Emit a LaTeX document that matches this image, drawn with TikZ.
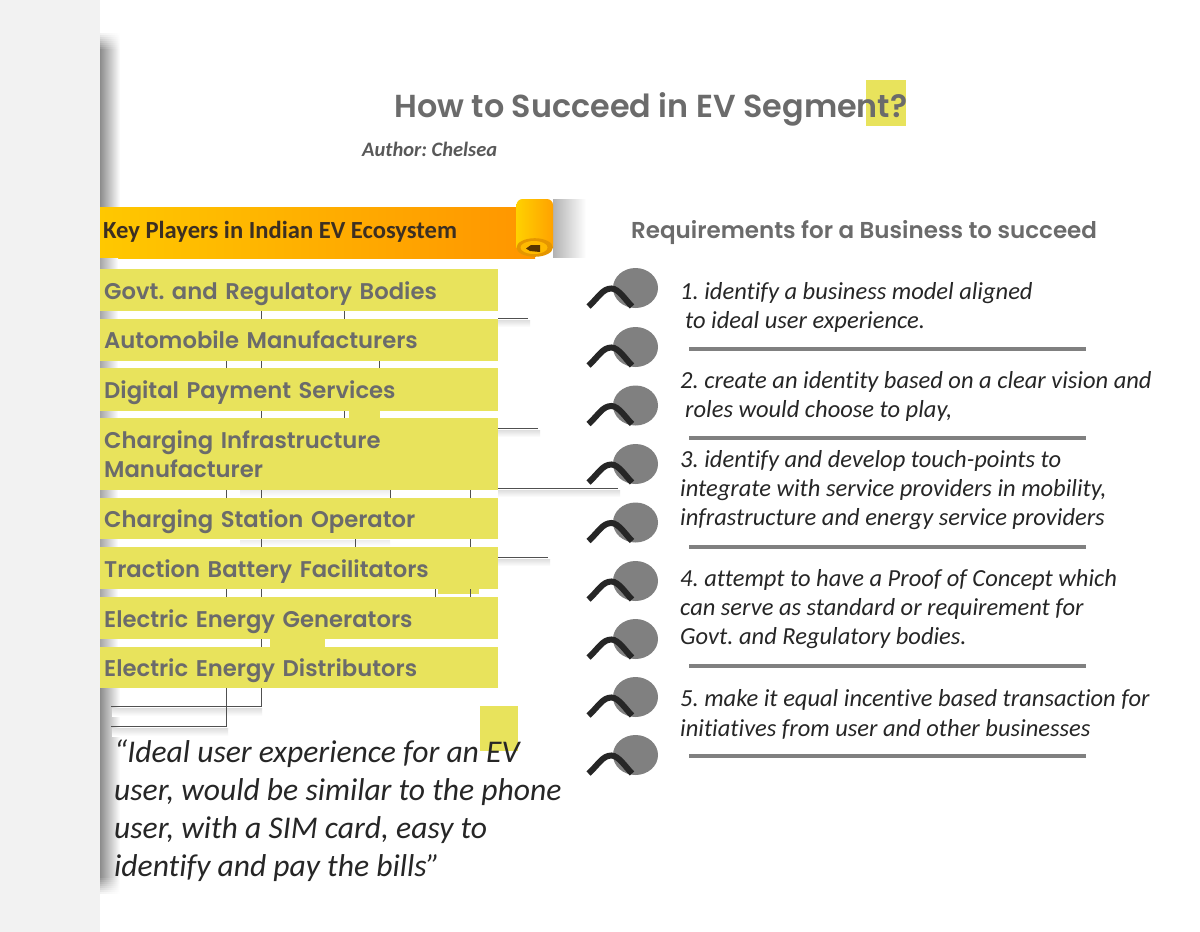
\documentclass[tikz,border=0pt]{standalone}
\usepackage{fontspec}
\setmainfont{Carlito}[Ligatures=NoCommon]
\newfontfamily\gothic{Poppins SemiBold}
\usetikzlibrary{shapes.geometric}
\definecolor{ylw}{HTML}{E8E35C}
\definecolor{lbl}{HTML}{6B6B6B}
\definecolor{ink}{HTML}{262626}
\definecolor{tick}{HTML}{505050}
\definecolor{ambA}{HTML}{FFC800}
\definecolor{ambB}{HTML}{FF9500}
\tikzset{
  yboxbase/.style={fill=ylw,anchor=north west,minimum width=398pt,text width=390pt,inner xsep=4pt,inner ysep=0pt,align=left,text=lbl,font=\gothic\fontsize{22.7}{29}\selectfont},
  ybox/.style={yboxbase,text height=23pt,text depth=5pt},
  ypatch/.style={fill=ylw,draw=none},
  tickline/.style={draw=tick,line width=0.8pt},
  sideshadow/.style={left color=black!45,right color=white,draw=none},
  softshadow/.style={top color=black!13,bottom color=white,draw=none},
  faintshadow/.style={top color=black!7,bottom color=white,draw=none},
  rulebar/.style={draw=black!50,line width=4pt},
  dot/.style={ellipse,fill=black!50,minimum width=45pt,minimum height=40pt,inner sep=0pt},
  hook/.style={draw=ink,line width=6pt},
  req/.style={anchor=west,inner sep=0pt,text=ink,font=\fontsize{24.5}{24}\selectfont\itshape},
  quoteline/.style={anchor=west,inner sep=0pt,text=ink,font=\fontsize{31.6}{32}\selectfont\itshape}
}
\begin{document}
\frenchspacing
\begin{tikzpicture}[x=1pt,y=-1pt]
\useasboundingbox (0,0) rectangle (1200,932);
\fill[white] (0,0) rectangle (1200,932);
\fill[black!5] (0,0) rectangle (100,932);
% side shadows
\foreach \k in {1,...,9}{
  \pgfmathsetmacro{\sh}{45*\k/9}
  \shade[left color=black!\sh,right color=white] (100,{31+2*\k}) rectangle (120,{33+2*\k});
  \shade[left color=black!\sh,right color=white] (100,{893-2*\k}) rectangle (120,{895-2*\k});
}
\shade[sideshadow] (100,51) rectangle (120,207);
\shade[sideshadow] (100,688) rectangle (120,875.5);
% title
\fill[ylw] (866,80) rectangle (906,126);
\node[anchor=west,inner sep=0pt,text=lbl,font=\gothic\fontsize{31.8}{30}\selectfont] (title) at (394,109) {How to Succeed in EV Segment?};
\node[anchor=west,inner sep=0pt,text=black!65,font=\fontsize{20.5}{20}\selectfont\bfseries\itshape] (author) at (362,149) {Author: Chelsea};
% banner
\shade[left color=black!30,right color=white] (553,199) rectangle (586,257);
\shade[left color=ambA,right color=ambB] (100,207) rectangle (535,258);
\shade[left color=ambA!85!yellow,right color=ambB!75!ambA] (516.5,248) [rounded corners=6pt] -- (516.5,199) -- (553,199) [sharp corners] -- (553,248) -- cycle;
\fill[ambB!65!ambA!90!black] (534.7,247.5) ellipse[x radius=18.2,y radius=9.3];
\fill[ambA!70!ambB] (534,247.5) ellipse[x radius=13.5,y radius=6.5];
\fill[black!65!ambB] (526,248.5) -- (531,245) -- (540,245) -- (540,252) -- (530,251) -- cycle;
\node[anchor=west,inner sep=0pt,text=ink!90!orange,font=\fontsize{24.6}{24}\selectfont\bfseries] (banner) at (103,232) {Key Players in Indian EV Ecosystem};
\node[anchor=west,inner sep=0pt,text=lbl,font=\gothic\fontsize{23}{24}\selectfont] (reqhead) at (631,233) {Requirements for a Business to succeed};
% left gap shadows
\foreach \ya/\yb in {258/269,311/318.7,360.7/368,410.7/418,489.5/498,539/547,589/597,638.7/647}
  \shade[left color=black!35,right color=white] (100,\ya) rectangle (118,\yb);
% soft shadows
\shade[softshadow] (498,320) rectangle (530,327);
\shade[softshadow] (498,430) rectangle (540,437);
\shade[softshadow] (498,490) rectangle (620,497);
\shade[softshadow] (498,559) rectangle (550,566);
\shade[softshadow] (112,708) rectangle (262,716);
\shade[softshadow] (112,728) rectangle (228,736);
\shade[faintshadow] (240,490) rectangle (390,497);
\shade[faintshadow] (240,540) rectangle (390,546);
% boxes
\node[ybox,minimum height=42pt] (b1) at (100,269) {Govt. and Regulatory Bodies};
\node[ybox,minimum height=42pt] (b2) at (100,318.7) {Automobile Manufacturers};
\node[ybox,minimum height=42.7pt] (b3) at (100,368) {Digital Payment Services};
\node[yboxbase,minimum height=71.5pt] (b4) at (100,418) {\raisebox{-1pt}{Charging Infrastructure}\\\raisebox{-1pt}{Manufacturer}};
\node[ybox,minimum height=41pt] (b5) at (100,498) {Charging Station Operator};
\node[ybox,minimum height=42pt] (b6) at (100,547) {Traction Battery Facilitators};
\node[ybox,minimum height=41.7pt] (b7) at (100,597) {Electric Energy Generators};
\node[ybox,minimum height=41pt] (b8) at (100,647) {Electric Energy Distributors};
% patches
\fill[ypatch] (349,410) rectangle (380,418.5);
\fill[ypatch] (438,589) rectangle (479,594);
\fill[ypatch] (270,638) rectangle (325,647.5);
\fill[ypatch] (480,706) rectangle (518,751);
% connector ticks
\foreach \up/\dn/\xs in {b1/b2/{261,344},b2/b3/{226,261,379},b3/b4/{261,344},b4/b5/{226,261,390,470},b5/b6/{261,355,470},b6/b7/{226,261,435,470},b7/b8/{261}}{
  \foreach \x in \xs {
    \coordinate (t) at (\x,0);
    \draw[tickline] (\up.south -| t) -- (\dn.north -| t);
  }
}
% right stubs
\coordinate (s1) at (528,318);
\coordinate (s2) at (538,428);
\coordinate (s3) at (618,488);
\coordinate (s4) at (548,557);
\draw[tickline] (b1.east |- s1) -- (s1);
\draw[tickline] (b4.east |- s2) -- (s2);
\draw[tickline] (b4.east |- s3) -- (s3);
\draw[tickline] (b6.east |- s4) -- (s4);
% lower connectors
\coordinate (l1) at (111,706);
\coordinate (l2) at (111,726);
\coordinate (u1) at (261,0);
\coordinate (u2) at (226,0);
\draw[tickline] (b8.south -| u1) |- (l1);
\draw[tickline] (b8.south -| u2) |- (l2);
% quote
\node[quoteline] (q1) at (114,754) {“Ideal user experience for an EV};
\node[quoteline] (q2) at (114,792) {user, would be similar to the phone};
\node[quoteline] (q3) at (114,830) {user, with a SIM card, easy to};
\node[quoteline] (q4) at (114,868) {identify and pay the bills”};
% icons
\foreach \i/\y in {1/288,2/347,3/405.5,4/464,5/522.5,6/581,7/639,8/697,9/755}{
  \node[dot] (c\i) at (635.5,\y) {};
  \draw[hook] ([xshift=-47pt,yshift=-18.5pt]c\i.center) .. controls +(10,-9) and +(-9,0) .. ([xshift=-24pt,yshift=-0.5pt]c\i.center) .. controls +(7,0) and +(-6,-6) .. ([xshift=-3.5pt,yshift=-18.5pt]c\i.center);
}
% requirement text
\node[req] (r1a) at (680,293) {1. identify a business model aligned};
\node[req] (r1b) at (685,322) {to ideal user experience.};
\node[req] (r2a) at (680,382) {2. create an identity based on a clear vision and};
\node[req] (r2b) at (685,411) {roles would choose to play,};
\node[req] (r3a) at (680,461) {3. identify and develop touch-points to};
\node[req] (r3b) at (680,490) {integrate with service providers in mobility,};
\node[req] (r3c) at (680,519) {infrastructure and energy service providers};
\node[req] (r4a) at (680,580) {4. attempt to have a Proof of Concept which};
\node[req] (r4b) at (680,609) {can serve as standard or requirement for};
\node[req] (r4c) at (680,638) {Govt. and Regulatory bodies.};
\node[req] (r5a) at (680,700) {5. make it equal incentive based transaction for};
\node[req] (r5b) at (680,729) {initiatives from user and other businesses};
% rules
\foreach \y in {349,438,547,666,756}
  \draw[rulebar] (689,\y) -- (1086,\y);
\end{tikzpicture}
\end{document}
